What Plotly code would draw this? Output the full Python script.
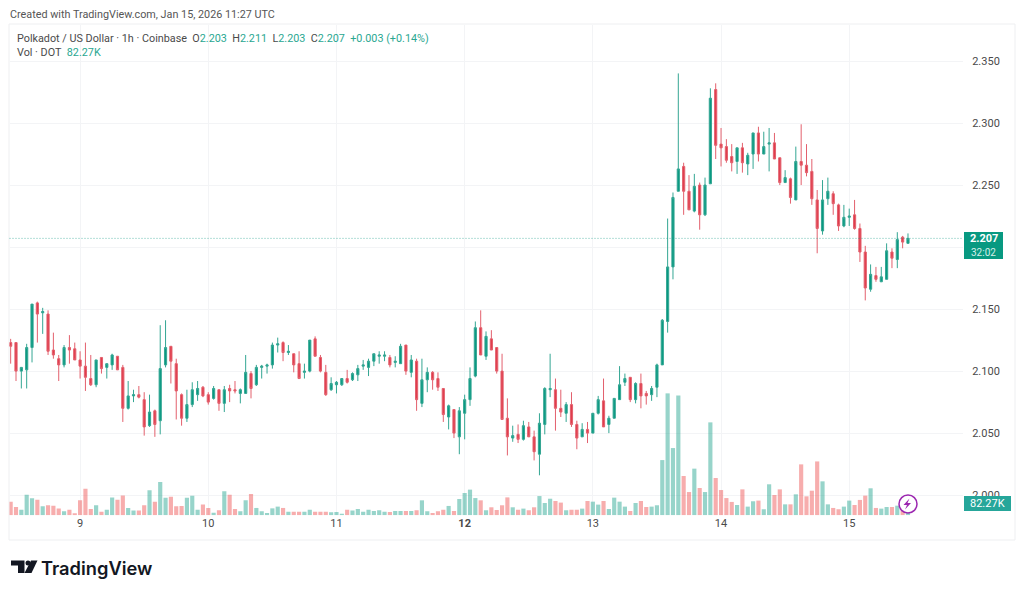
import pandas as pd
import plotly.graph_objects as go

# hourly DOT/USD candles, Jan 8 11:00 to Jan 15 11:00 UTC
open_ = [2.123, 2.123, 2.100, 2.101, 2.119, 2.155, 2.147, 2.146, 2.117, 2.110, 2.105, 2.119, 2.118,
         2.109, 2.104, 2.094, 2.089, 2.111, 2.103, 2.105, 2.112, 2.103, 2.070, 2.080, 2.081, 2.077,
         2.056, 2.068, 2.060, 2.105, 2.120, 2.106, 2.081, 2.062, 2.073, 2.081, 2.087, 2.081, 2.078,
         2.085, 2.074, 2.086, 2.085, 2.082, 2.082, 2.098, 2.089, 2.103, 2.104, 2.105, 2.121, 2.123,
         2.115, 2.114, 2.106, 2.099, 2.100, 2.126, 2.111, 2.099, 2.085, 2.089,
         2.089, 2.094, 2.093, 2.097, 2.104, 2.103, 2.108, 2.112, 2.112, 2.111, 2.107, 2.106, 2.121,
         2.099, 2.108, 2.074, 2.093, 2.099, 2.094, 2.086, 2.063, 2.069, 2.047, 2.066, 2.077, 2.096,
         2.135, 2.112, 2.126, 2.119, 2.100, 2.062, 2.046, 2.049, 2.045, 2.055, 2.047, 2.033, 2.057,
         2.085, 2.085, 2.070, 2.066, 2.073, 2.057, 2.047, 2.053, 2.050, 2.066, 2.076, 2.057, 2.062,
         2.077, 2.091, 2.095, 2.077, 2.090, 2.082, 2.081, 2.087, 2.105, 2.140,
         2.184, 2.245, 2.265, 2.245, 2.229, 2.250, 2.226, 2.251, 2.327, 2.283, 2.281, 2.273, 2.269,
         2.280, 2.267, 2.275, 2.292, 2.275, 2.283, 2.284, 2.272, 2.252, 2.255, 2.238, 2.269, 2.266,
         2.261, 2.238, 2.213, 2.239, 2.243, 2.234, 2.217, 2.224, 2.226, 2.215, 2.196, 2.166, 2.177,
         2.172, 2.174, 2.196, 2.190, 2.208, 2.203]
high = [2.126, 2.123, 2.103, 2.122, 2.154, 2.156, 2.151, 2.149, 2.131, 2.113, 2.121, 2.129, 2.123,
        2.116, 2.123, 2.113, 2.109, 2.111, 2.106, 2.114, 2.112, 2.105, 2.092, 2.085, 2.088, 2.083,
        2.081, 2.069, 2.137, 2.141, 2.120, 2.110, 2.082, 2.085, 2.091, 2.092, 2.088, 2.083, 2.088,
        2.085, 2.088, 2.089, 2.092, 2.086, 2.113, 2.100, 2.105, 2.105, 2.106, 2.123, 2.127, 2.124,
        2.121, 2.114, 2.116, 2.106, 2.125, 2.128, 2.113, 2.105, 2.095, 2.092,
        2.094, 2.101, 2.099, 2.105, 2.109, 2.110, 2.114, 2.116, 2.116, 2.113, 2.112, 2.122, 2.121,
        2.113, 2.110, 2.110, 2.103, 2.100, 2.099, 2.086, 2.073, 2.069, 2.071, 2.081, 2.103, 2.140,
        2.149, 2.132, 2.133, 2.119, 2.114, 2.078, 2.056, 2.057, 2.060, 2.059, 2.052, 2.066, 2.087,
        2.114, 2.094, 2.085, 2.075, 2.083, 2.060, 2.058, 2.059, 2.066, 2.080, 2.094, 2.064, 2.078,
        2.104, 2.098, 2.095, 2.091, 2.098, 2.084, 2.088, 2.106, 2.142, 2.223,
        2.244, 2.340, 2.268, 2.258, 2.259, 2.252, 2.256, 2.328, 2.332, 2.296, 2.287, 2.283, 2.280,
        2.284, 2.276, 2.292, 2.297, 2.293, 2.296, 2.292, 2.272, 2.262, 2.256, 2.281, 2.299, 2.283,
        2.271, 2.246, 2.254, 2.256, 2.245, 2.235, 2.234, 2.231, 2.238, 2.219, 2.201, 2.186, 2.184,
        2.184, 2.203, 2.199, 2.212, 2.209, 2.211]
low = [2.106, 2.092, 2.086, 2.086, 2.107, 2.123, 2.130, 2.113, 2.110, 2.092, 2.103, 2.106, 2.109,
       2.094, 2.084, 2.088, 2.087, 2.098, 2.094, 2.101, 2.101, 2.059, 2.069, 2.075, 2.078, 2.048,
       2.055, 2.047, 2.049, 2.103, 2.090, 2.061, 2.056, 2.059, 2.071, 2.076, 2.079, 2.073, 2.077,
       2.068, 2.067, 2.075, 2.082, 2.074, 2.082, 2.078, 2.088, 2.094, 2.098, 2.102, 2.115, 2.108,
       2.113, 2.099, 2.094, 2.094, 2.099, 2.112, 2.099, 2.080, 2.084, 2.082,
       2.088, 2.090, 2.092, 2.092, 2.101, 2.096, 2.104, 2.106, 2.108, 2.103, 2.103, 2.106, 2.097,
       2.095, 2.068, 2.071, 2.083, 2.085, 2.084, 2.059, 2.053, 2.046, 2.033, 2.045, 2.072, 2.095,
       2.113, 2.109, 2.117, 2.098, 2.061, 2.032, 2.043, 2.042, 2.044, 2.047, 2.028, 2.016, 2.049,
       2.079, 2.052, 2.063, 2.059, 2.055, 2.037, 2.047, 2.042, 2.050, 2.065, 2.055, 2.050, 2.062,
       2.077, 2.088, 2.075, 2.074, 2.070, 2.073, 2.076, 2.079, 2.105, 2.131,
       2.174, 2.245, 2.226, 2.230, 2.228, 2.214, 2.225, 2.251, 2.271, 2.265, 2.268, 2.261, 2.259,
       2.260, 2.258, 2.263, 2.269, 2.275, 2.261, 2.271, 2.250, 2.252, 2.235, 2.238, 2.250, 2.257,
       2.234, 2.195, 2.210, 2.234, 2.226, 2.213, 2.216, 2.217, 2.214, 2.188, 2.157, 2.164, 2.172,
       2.172, 2.174, 2.183, 2.183, 2.199, 2.203]
close = [2.120, 2.100, 2.103, 2.119, 2.154, 2.146, 2.148, 2.116, 2.113, 2.105, 2.119, 2.117, 2.109,
         2.104, 2.095, 2.089, 2.109, 2.102, 2.106, 2.113, 2.101, 2.070, 2.080, 2.081, 2.079, 2.055,
         2.067, 2.057, 2.102, 2.119, 2.108, 2.084, 2.062, 2.073, 2.085, 2.086, 2.080, 2.075, 2.086,
         2.074, 2.085, 2.084, 2.084, 2.085, 2.099, 2.086, 2.103, 2.104, 2.105, 2.121, 2.122, 2.115,
         2.116, 2.105, 2.094, 2.100, 2.125, 2.112, 2.100, 2.081, 2.090, 2.091,
         2.094, 2.091, 2.098, 2.102, 2.105, 2.108, 2.114, 2.113, 2.113, 2.105, 2.108, 2.120, 2.100,
         2.109, 2.077, 2.093, 2.099, 2.093, 2.087, 2.065, 2.072, 2.050, 2.068, 2.077, 2.094, 2.135,
         2.113, 2.128, 2.117, 2.100, 2.061, 2.047, 2.048, 2.045, 2.056, 2.047, 2.035, 2.058, 2.086,
         2.086, 2.070, 2.067, 2.073, 2.057, 2.046, 2.053, 2.050, 2.066, 2.077, 2.055, 2.062, 2.078,
         2.089, 2.094, 2.077, 2.090, 2.080, 2.080, 2.086, 2.105, 2.141, 2.184,
         2.240, 2.263, 2.245, 2.230, 2.249, 2.226, 2.250, 2.320, 2.282, 2.280, 2.270, 2.268, 2.280,
         2.268, 2.274, 2.292, 2.275, 2.281, 2.284, 2.271, 2.252, 2.256, 2.240, 2.269, 2.266, 2.260,
         2.239, 2.215, 2.238, 2.245, 2.235, 2.217, 2.224, 2.225, 2.215, 2.196, 2.167, 2.178, 2.174,
         2.176, 2.197, 2.191, 2.206, 2.204, 2.207]
# volume in thousands of DOT
volume = [102, 62, 42, 154, 127, 117, 67, 75, 72, 50, 30, 42, 15, 112, 199, 47, 75, 27, 42, 134,
          117, 149, 55, 35, 35, 75, 187, 102, 249, 132, 139, 67, 70, 132, 147, 42, 80, 55, 20, 37,
          179, 154, 47, 30, 112, 159, 55, 30, 17, 52, 65, 55, 27, 27, 27, 27, 42, 27, 27, 27, 22, 25,
          12, 42, 35, 47, 27, 42, 32, 37, 27, 25, 32, 32, 32, 32, 37, 112, 30, 17, 30, 42, 70, 32,
          122, 167, 192, 129, 112, 37, 60, 40, 75, 134, 60, 42, 50, 37, 60, 144, 92, 124, 107, 95,
          37, 42, 42, 50, 107, 102, 80, 107, 47, 132, 102, 65, 32, 92, 107, 62, 65, 75,
          413, 912, 503, 896, 294, 174, 349, 204, 174, 695, 279, 189, 129, 100, 77, 194, 65, 105,
          110, 45, 232, 152, 194, 82, 82, 157, 381, 142, 184, 403, 254, 82, 55, 45, 65, 110, 77,
          115, 147, 202, 55, 50, 62, 62, 72, 35, 82.27]

price_ticks = [2.0, 2.05, 2.1, 2.15, 2.2, 2.25, 2.3, 2.35]
day_ticks = ["2026-01-09", "2026-01-10", "2026-01-11", "2026-01-12", "2026-01-13", "2026-01-14", "2026-01-15"]
day_labels = ["9", "10", "11", "<b>12</b>", "13", "14", "15"]

times = pd.date_range("2026-01-08 11:00", periods=len(close), freq="h")

UP = "#089981"
DOWN = "#e03c4c"
UP_WICK = "#34a693"
DOWN_WICK = "#e3606d"
GRID = "#f3f4f6"
TEXT = "#4a4a4a"
FONT = "Roboto"


def fx(px):
    return px / 1024


def fy(py):
    return 1 - py / 594


vol_colors = ["rgba(8,153,129,0.42)" if c >= o else "rgba(235,60,60,0.42)" for o, c in zip(open_, close)]

fig = go.Figure()
fig.add_trace(go.Bar(x=times, y=volume, width=0.78 * 3600000, marker=dict(color=vol_colors, line_width=0)))
fig.add_trace(go.Candlestick(
    x=times, open=open_, high=high, low=low, close=close, yaxis="y2", whiskerwidth=0,
    increasing=dict(line=dict(color=UP_WICK, width=1), fillcolor=UP),
    decreasing=dict(line=dict(color=DOWN_WICK, width=1), fillcolor=DOWN),
))

fig.update_layout(
    width=1024, height=594, autosize=False, showlegend=False, boxgap=0.42,
    margin=dict(l=0, r=0, t=0, b=0),
    paper_bgcolor="white", plot_bgcolor="white",
    font=dict(family=FONT, size=11, color=TEXT),
    xaxis=dict(
        domain=[fx(9.5), fx(963)], type="date", range=["2026-01-08 10:47", "2026-01-15 21:18"],
        tickvals=day_ticks, ticktext=day_labels, showgrid=True, gridcolor=GRID, gridwidth=1,
        zeroline=False, showline=False, ticks="", rangeslider=dict(visible=False),
        tickfont=dict(size=11, color=TEXT),
    ),
    yaxis=dict(
        domain=[fy(515.3), fy(25)], range=[0, 3667], visible=False, fixedrange=True,
    ),
    yaxis2=dict(
        domain=[fy(515.3), fy(25)], overlaying="y", side="right", range=[1.98375, 2.37903],
        tickvals=price_ticks, tickformat=".3f", showgrid=True, gridcolor=GRID, gridwidth=1,
        zeroline=False, showline=False, ticks="outside", ticklen=6, tickcolor="rgba(0,0,0,0)",
        tickfont=dict(size=11, color=TEXT),
    ),
)

# chart frame
fig.add_shape(type="rect", xref="paper", yref="paper", x0=fx(9), x1=fx(1015), y0=fy(540), y1=fy(24),
              line=dict(color="#eeeff1", width=1), layer="below")
# last price line
fig.add_shape(type="line", xref="paper", yref="y2", x0=fx(9.5), x1=fx(963), y0=close[-1], y1=close[-1],
              line=dict(color=UP, width=1, dash="1px,2px"), opacity=0.6)
# last price and volume labels
fig.add_shape(type="rect", xref="paper", yref="paper", x0=fx(964), x1=fx(1003), y0=fy(259), y1=fy(232),
              fillcolor=UP, line_width=0, layer="above")
fig.add_shape(type="rect", xref="paper", yref="paper", x0=fx(964), x1=fx(1011), y0=fy(511), y1=fy(496),
              fillcolor="#26a69a", line_width=0, layer="above")
# replay icon
fig.add_shape(type="circle", xref="paper", yref="paper", x0=fx(899), x1=fx(917), y0=fy(513), y1=fy(495),
              fillcolor="white", line=dict(color="#9c27b0", width=1.5), layer="above")
fig.add_shape(type="path", xref="paper", yref="paper", layer="above", fillcolor="#9c27b0", line_width=0,
              path=f"M {fx(909.5)} {fy(498.5)} L {fx(903.5)} {fy(505)} L {fx(907)} {fy(505)} "
                   f"L {fx(905)} {fy(509.5)} L {fx(911)} {fy(503)} L {fx(907.5)} {fy(503)} Z")
# TradingView logo mark
logo_paths = [
    [(11, 560.5), (24.5, 560.5), (24.5, 573), (18, 573), (18, 565.5), (11, 565.5)],
    [(31, 560.5), (37.5, 560.5), (31.5, 573), (24.5, 573)],
]
for pts in logo_paths:
    d = "M " + " L ".join(f"{fx(a)} {fy(b)}" for a, b in pts) + " Z"
    fig.add_shape(type="path", xref="paper", yref="paper", path=d, fillcolor="#131722", line_width=0, layer="above")
fig.add_shape(type="circle", xref="paper", yref="paper", x0=fx(25.5), x1=fx(30.5), y0=fy(565.5), y1=fy(560.5),
              fillcolor="#131722", line_width=0, layer="above")


def label(px, py, text, size=10.8, color=TEXT, anchor="left", family=FONT, weight=None):
    fig.add_annotation(x=fx(px), y=fy(py), xref="paper", yref="paper", text=text, showarrow=False,
                       xanchor=anchor, yanchor="middle", align=anchor,
                       font=dict(size=size, color=color, family=family, weight=weight), borderpad=0)


def val(text):
    return f'<span style="color:#2aa791">{text}</span>'


label(9, 14, "Created with TradingView.com, Jan 15, 2026 11:27 UTC", color="#555555")
label(16, 38, "Polkadot / US Dollar · 1h · Coinbase&nbsp;&nbsp;O" + val("2.203") + "&nbsp;&nbsp;H" + val("2.211")
      + "&nbsp;&nbsp;L" + val("2.203") + "&nbsp;&nbsp;C" + val("2.207") + "&nbsp;&nbsp;" + val("+0.003 (+0.14%)"))
label(16, 53, "Vol · DOT&nbsp;&nbsp;" + val("82.27K"))
label(983.5, 238, "<b>2.207</b>", size=11, color="white", anchor="center")
label(983.5, 252, "32:02", size=10, color="#d5efe9", anchor="center")
label(987.5, 503.5, "82.27K", size=11, color="white", anchor="center")
label(40, 567.5, "TradingView", size=18.3, color="#131722", family="Inter", weight=600)

# the page keeps the browser's default body margin otherwise
fig.write_html("out.html", config={"displayModeBar": False}, post_script="document.body.style.margin='0';")
